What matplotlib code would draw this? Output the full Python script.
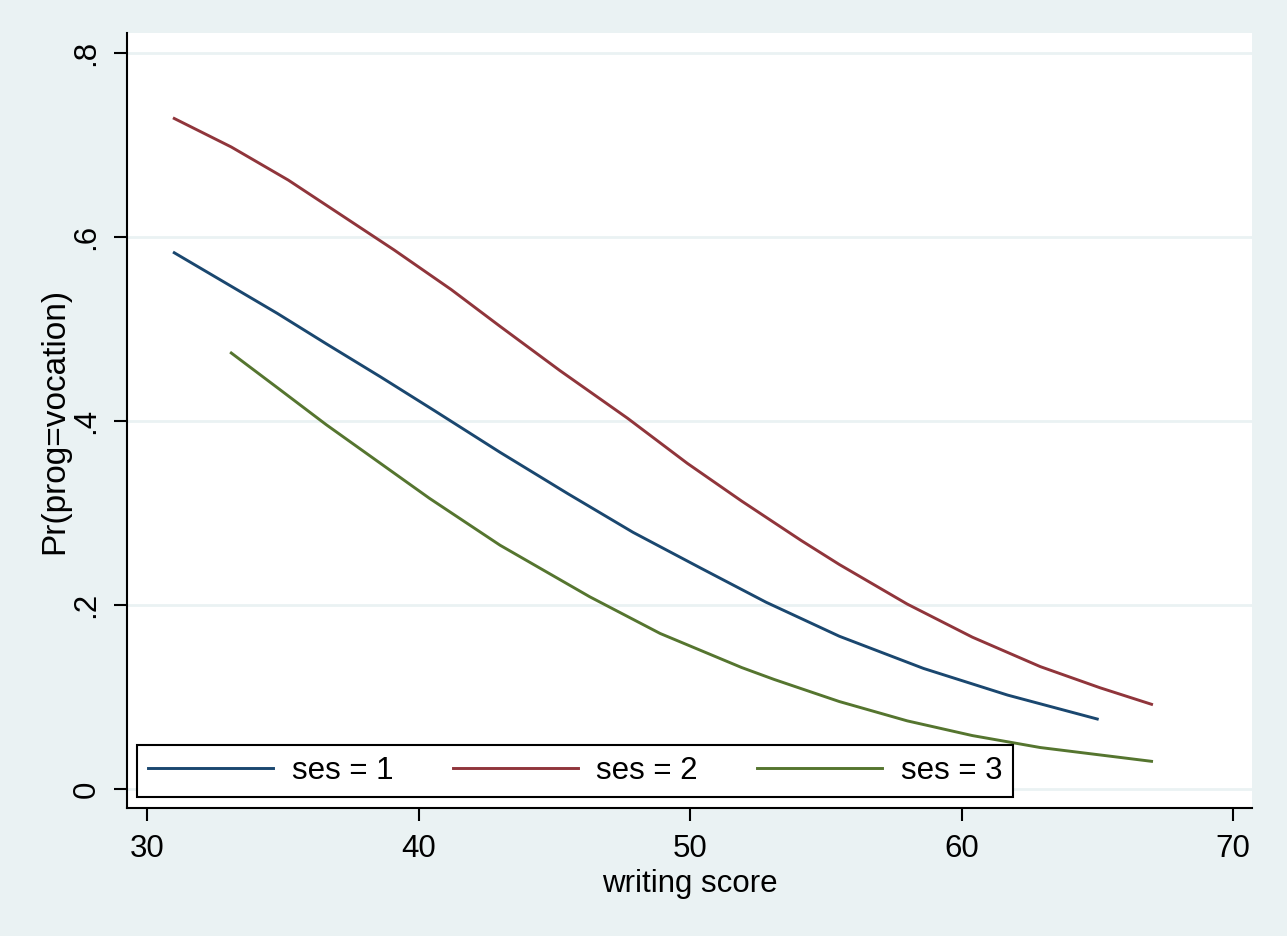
import matplotlib
matplotlib.use("Agg")
import matplotlib.pyplot as plt

# predicted probabilities
write_ses1 = [31, 32.9, 34.8, 36.6, 38.6, 40.6, 43, 45.5, 47.9, 50.4, 52.8, 55.5, 58.6, 61.7, 65]
prob_ses1 = [.583, .550, .517, .484, .448, .411, .366, .321, .279, .240, .203, .166, .131, .102, .076]

write_ses2 = [31, 33.1, 35.2, 37.1, 39.1, 41.2, 43, 45.2, 47.7, 49.9, 51.9, 54.1, 55.5, 58, 60.4, 62.9, 65.1, 67]
prob_ses2 = [.729, .698, .662, .625, .586, .543, .503, .455, .403, .354, .313, .270, .244, .201, .165, .133, .110, .092]

write_ses3 = [33.1, 34.9, 36.6, 38.5, 40.4, 43, 46.3, 48.9, 51.9, 53.1, 55.5, 58, 60.4, 62.9, 67]
prob_ses3 = [.474, .434, .396, .356, .316, .265, .209, .169, .132, .119, .095, .074, .058, .045, .030]

labels = ["ses = 1", "ses = 2", "ses = 3"]
xticks = [30, 40, 50, 60, 70]
yticks = [0, .2, .4, .6, .8]
ytick_labels = ["0", ".2", ".4", ".6", ".8"]

# stata s2color look
bg = "#EAF2F3"
colors = ["#1a476f", "#90353b", "#55752f"]
plt.rcParams["font.family"] = ["Liberation Sans", "DejaVu Sans"]
fs = 22.5

fig = plt.figure(figsize=(12.87, 9.36), dpi=100, facecolor=bg)
ax = fig.add_axes([0.0987, 0.1368, 0.8741, 0.828])
ax.set_facecolor("white")

series = [(write_ses1, prob_ses1), (write_ses2, prob_ses2), (write_ses3, prob_ses3)]
for (xs, ys), c, lab in zip(series, colors, labels):
    ax.plot(xs, ys, color=c, lw=2.1, label=lab, zorder=3,
            solid_joinstyle="round")

ax.set_xlim(29.26, 70.70)
ax.set_ylim(-0.0207, 0.822)
ax.set_xticks(xticks)
ax.set_yticks(yticks)
ax.set_yticklabels(ytick_labels, rotation=90, va="center")
for y in yticks:
    ax.axhline(y, color=bg, lw=2, zorder=1)

for s in ["top", "right"]:
    ax.spines[s].set_visible(False)
for s in ["left", "bottom"]:
    ax.spines[s].set_linewidth(1.5)
    ax.spines[s].set_color("black")
ax.tick_params(axis="both", direction="out", length=9.5, width=1.5,
               labelsize=fs, pad=9, colors="black")

ax.set_xlabel("writing score", fontsize=fs, labelpad=4)
ax.set_ylabel("Pr(prog=vocation)", fontsize=24, labelpad=1)

leg = ax.legend(loc="lower left", ncol=3, fontsize=fs,
                bbox_to_anchor=(0.0089, 0.0142, 0.779, 0.0774), mode="expand",
                frameon=True, fancybox=False, framealpha=1, edgecolor="black",
                handlelength=4, handletextpad=0.6, borderpad=0.35,
                borderaxespad=0)
leg.get_frame().set_linewidth(1.5)
leg.set_zorder(5)

fig.savefig("out.png", dpi=100, facecolor=bg)
